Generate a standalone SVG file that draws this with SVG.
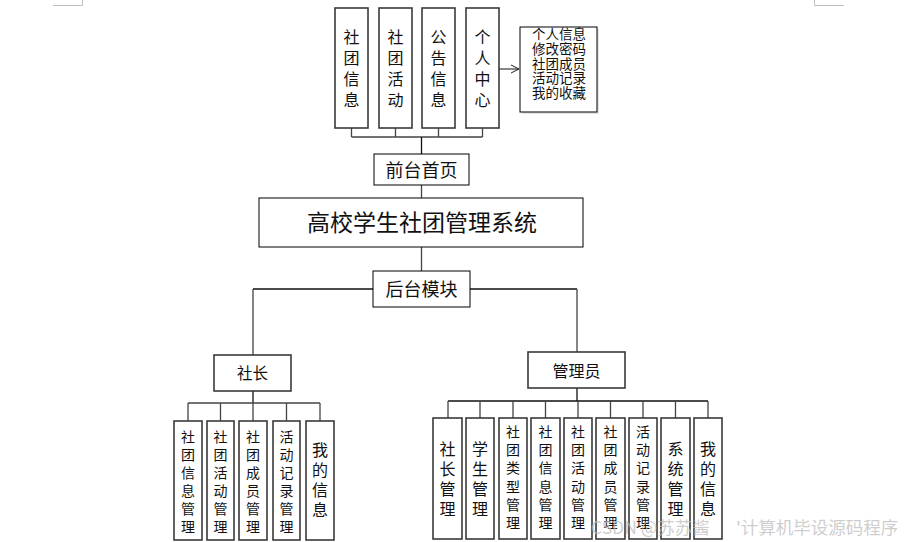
<svg xmlns="http://www.w3.org/2000/svg" width="904" height="542" viewBox="0 0 904 542">
<defs>
<style>
.t{font-family:"Noto Sans CJK SC","Liberation Sans",sans-serif;fill:#111;text-anchor:middle}
.box{fill:#fff;stroke:#000;stroke-width:1}
.cbox{fill:#fff;stroke:#3a3a3a;stroke-width:1.6}
.ln{fill:none;stroke:#444;stroke-width:1.3}
.lnk{fill:none;stroke:#111;stroke-width:1.3}
.wm{font-family:"Noto Sans CJK SC","Liberation Sans",sans-serif;fill:#bdbdbd;fill-opacity:0.75;font-size:17.5px}
</style>
<marker id="arr" markerWidth="10" markerHeight="10" refX="9" refY="5" orient="auto" markerUnits="userSpaceOnUse">
<path d="M1,1 L9,5 L1,9" fill="none" stroke="#222" stroke-width="1"/>
</marker>
</defs>
<rect width="904" height="542" fill="#fff"/>
<g id="corners" stroke="#c0c0c0" stroke-width="1" fill="none">
<path d="M53,5.5 H82.5 V0"/>
<path d="M814.5,0 V5.5 H844"/>
</g>
<g id="connectors">
<path class="ln" d="M351.5,128 V137 M395.5,128 V137 M438.5,128 V137 M482.5,128 V137 M351.5,137 H482.5"/>
<path class="lnk" d="M421.5,137 V154"/>
<path class="ln" d="M421.5,185 V198"/>
<path class="ln" d="M421.5,247 V271"/>
<path class="lnk" d="M253,289 H373 M470,289 H577"/>
<path class="ln" d="M253,289 V355 M577,289 V352"/>
<path class="lnk" d="M253,391 V403"/>
<path class="ln" d="M188,403 H320 M188,403 V421 M220.5,403 V421 M253,403 V421 M286.5,403 V421 M320,403 V421"/>
<path class="lnk" d="M577,388 V401"/>
<path class="lnk" d="M448,401 H708"/>
<path class="ln" d="M448,401 V418 M480,401 V418 M513,401 V418 M545.5,401 V418 M578,401 V418 M610.5,401 V418 M643,401 V418 M675.5,401 V418 M708,401 V418"/>
<path class="ln" d="M499,69 H519" marker-end="url(#arr)"/>
</g>
<g id="n_shetuanxinxi"><rect class="cbox" x="335" y="8" width="33" height="120"/><text class="t" font-size="16"><tspan x="351.5" y="43">社</tspan><tspan x="351.5" y="64">团</tspan><tspan x="351.5" y="85">信</tspan><tspan x="351.5" y="106">息</tspan></text></g>
<g id="n_shetuanhuodong"><rect class="cbox" x="379" y="8" width="33" height="120"/><text class="t" font-size="16"><tspan x="395.5" y="43">社</tspan><tspan x="395.5" y="64">团</tspan><tspan x="395.5" y="85">活</tspan><tspan x="395.5" y="106">动</tspan></text></g>
<g id="n_gonggao"><rect class="cbox" x="422" y="8" width="33" height="120"/><text class="t" font-size="16"><tspan x="438.5" y="43">公</tspan><tspan x="438.5" y="64">告</tspan><tspan x="438.5" y="85">信</tspan><tspan x="438.5" y="106">息</tspan></text></g>
<g id="n_geren"><rect class="cbox" x="466" y="8" width="33" height="120"/><text class="t" font-size="16"><tspan x="482.5" y="43">个</tspan><tspan x="482.5" y="64">人</tspan><tspan x="482.5" y="85">中</tspan><tspan x="482.5" y="106">心</tspan></text></g>
<g id="n_gerenlist"><rect x="522" y="29" width="77" height="85" fill="#e4e4e4"/><rect class="box" x="520" y="27" width="77" height="85"/><text class="t" font-size="13.5"><tspan x="559" y="39">个人信息</tspan><tspan x="559" y="54">修改密码</tspan><tspan x="559" y="68.5">社团成员</tspan><tspan x="559" y="83">活动记录</tspan><tspan x="559" y="98">我的收藏</tspan></text></g>
<g id="n_qiantai"><rect class="box" x="374" y="154" width="95" height="31"/><text class="t" font-size="18" x="421.5" y="176.5">前台首页</text></g>
<g id="n_main"><rect class="box" x="259" y="198" width="324" height="49"/><text class="t" font-size="23" x="422" y="230.5">高校学生社团管理系统</text></g>
<g id="n_houtai"><rect class="box" x="373" y="271" width="97" height="36"/><text class="t" font-size="18" x="421.5" y="295.5">后台模块</text></g>
<g id="n_shezhang"><rect class="cbox" x="214" y="355" width="77" height="36"/><text class="t" font-size="15.5" x="252.5" y="378.5">社长</text></g>
<g id="n_guanliyuan"><rect class="cbox" x="528" y="352" width="97" height="36"/><text class="t" font-size="16" x="576.5" y="377">管理员</text></g>
<g id="n_s1"><rect class="cbox" x="174" y="421" width="28" height="119"/><text class="t" font-size="14"><tspan x="188" y="442">社</tspan><tspan x="188" y="460">团</tspan><tspan x="188" y="478">信</tspan><tspan x="188" y="496">息</tspan><tspan x="188" y="514">管</tspan><tspan x="188" y="532">理</tspan></text></g>
<g id="n_s2"><rect class="cbox" x="207" y="421" width="27" height="119"/><text class="t" font-size="14"><tspan x="220.5" y="442">社</tspan><tspan x="220.5" y="460">团</tspan><tspan x="220.5" y="478">活</tspan><tspan x="220.5" y="496">动</tspan><tspan x="220.5" y="514">管</tspan><tspan x="220.5" y="532">理</tspan></text></g>
<g id="n_s3"><rect class="cbox" x="239" y="421" width="28" height="119"/><text class="t" font-size="14"><tspan x="253" y="442">社</tspan><tspan x="253" y="460">团</tspan><tspan x="253" y="478">成</tspan><tspan x="253" y="496">员</tspan><tspan x="253" y="514">管</tspan><tspan x="253" y="532">理</tspan></text></g>
<g id="n_s4"><rect class="cbox" x="273" y="421" width="27" height="119"/><text class="t" font-size="14"><tspan x="286.5" y="442">活</tspan><tspan x="286.5" y="460">动</tspan><tspan x="286.5" y="478">记</tspan><tspan x="286.5" y="496">录</tspan><tspan x="286.5" y="514">管</tspan><tspan x="286.5" y="532">理</tspan></text></g>
<g id="n_s5"><rect class="cbox" x="306" y="421" width="28" height="119"/><text class="t" font-size="16"><tspan x="320" y="456">我</tspan><tspan x="320" y="476">的</tspan><tspan x="320" y="496">信</tspan><tspan x="320" y="516">息</tspan></text></g>
<g id="n_a1"><rect class="cbox" x="433" y="418" width="29" height="121"/><text class="t" font-size="16"><tspan x="447.5" y="455">社</tspan><tspan x="447.5" y="475">长</tspan><tspan x="447.5" y="495">管</tspan><tspan x="447.5" y="515">理</tspan></text></g>
<g id="n_a2"><rect class="cbox" x="466" y="418" width="28" height="121"/><text class="t" font-size="16"><tspan x="480" y="455">学</tspan><tspan x="480" y="475">生</tspan><tspan x="480" y="495">管</tspan><tspan x="480" y="515">理</tspan></text></g>
<g id="n_a3"><rect class="cbox" x="499" y="418" width="28" height="121"/><text class="t" font-size="14"><tspan x="513" y="437">社</tspan><tspan x="513" y="455">团</tspan><tspan x="513" y="473">类</tspan><tspan x="513" y="492">型</tspan><tspan x="513" y="510">管</tspan><tspan x="513" y="528">理</tspan></text></g>
<g id="n_a4"><rect class="cbox" x="531" y="418" width="29" height="121"/><text class="t" font-size="14"><tspan x="545.5" y="437">社</tspan><tspan x="545.5" y="455">团</tspan><tspan x="545.5" y="473">信</tspan><tspan x="545.5" y="492">息</tspan><tspan x="545.5" y="510">管</tspan><tspan x="545.5" y="528">理</tspan></text></g>
<g id="n_a5"><rect class="cbox" x="564" y="418" width="28" height="121"/><text class="t" font-size="14"><tspan x="578" y="437">社</tspan><tspan x="578" y="455">团</tspan><tspan x="578" y="473">活</tspan><tspan x="578" y="492">动</tspan><tspan x="578" y="510">管</tspan><tspan x="578" y="528">理</tspan></text></g>
<g id="n_a6"><rect class="cbox" x="596" y="418" width="29" height="121"/><text class="t" font-size="14"><tspan x="610.5" y="437">社</tspan><tspan x="610.5" y="455">团</tspan><tspan x="610.5" y="473">成</tspan><tspan x="610.5" y="492">员</tspan><tspan x="610.5" y="510">管</tspan><tspan x="610.5" y="528">理</tspan></text></g>
<g id="n_a7"><rect class="cbox" x="629" y="418" width="28" height="121"/><text class="t" font-size="14"><tspan x="643" y="437">活</tspan><tspan x="643" y="455">动</tspan><tspan x="643" y="473">记</tspan><tspan x="643" y="492">录</tspan><tspan x="643" y="510">管</tspan><tspan x="643" y="528">理</tspan></text></g>
<g id="n_a8"><rect class="cbox" x="661" y="418" width="29" height="121"/><text class="t" font-size="16"><tspan x="675.5" y="455">系</tspan><tspan x="675.5" y="475">统</tspan><tspan x="675.5" y="495">管</tspan><tspan x="675.5" y="515">理</tspan></text></g>
<g id="n_a9"><rect class="cbox" x="694" y="418" width="28" height="121"/><text class="t" font-size="16"><tspan x="708" y="455">我</tspan><tspan x="708" y="475">的</tspan><tspan x="708" y="495">信</tspan><tspan x="708" y="515">息</tspan></text></g>
<g id="watermark">
<text class="wm" x="591" y="534">CSDN @苏苏酱</text>
<text class="wm" x="736" y="534">'计算机毕设源码程序</text>
</g>
</svg>
